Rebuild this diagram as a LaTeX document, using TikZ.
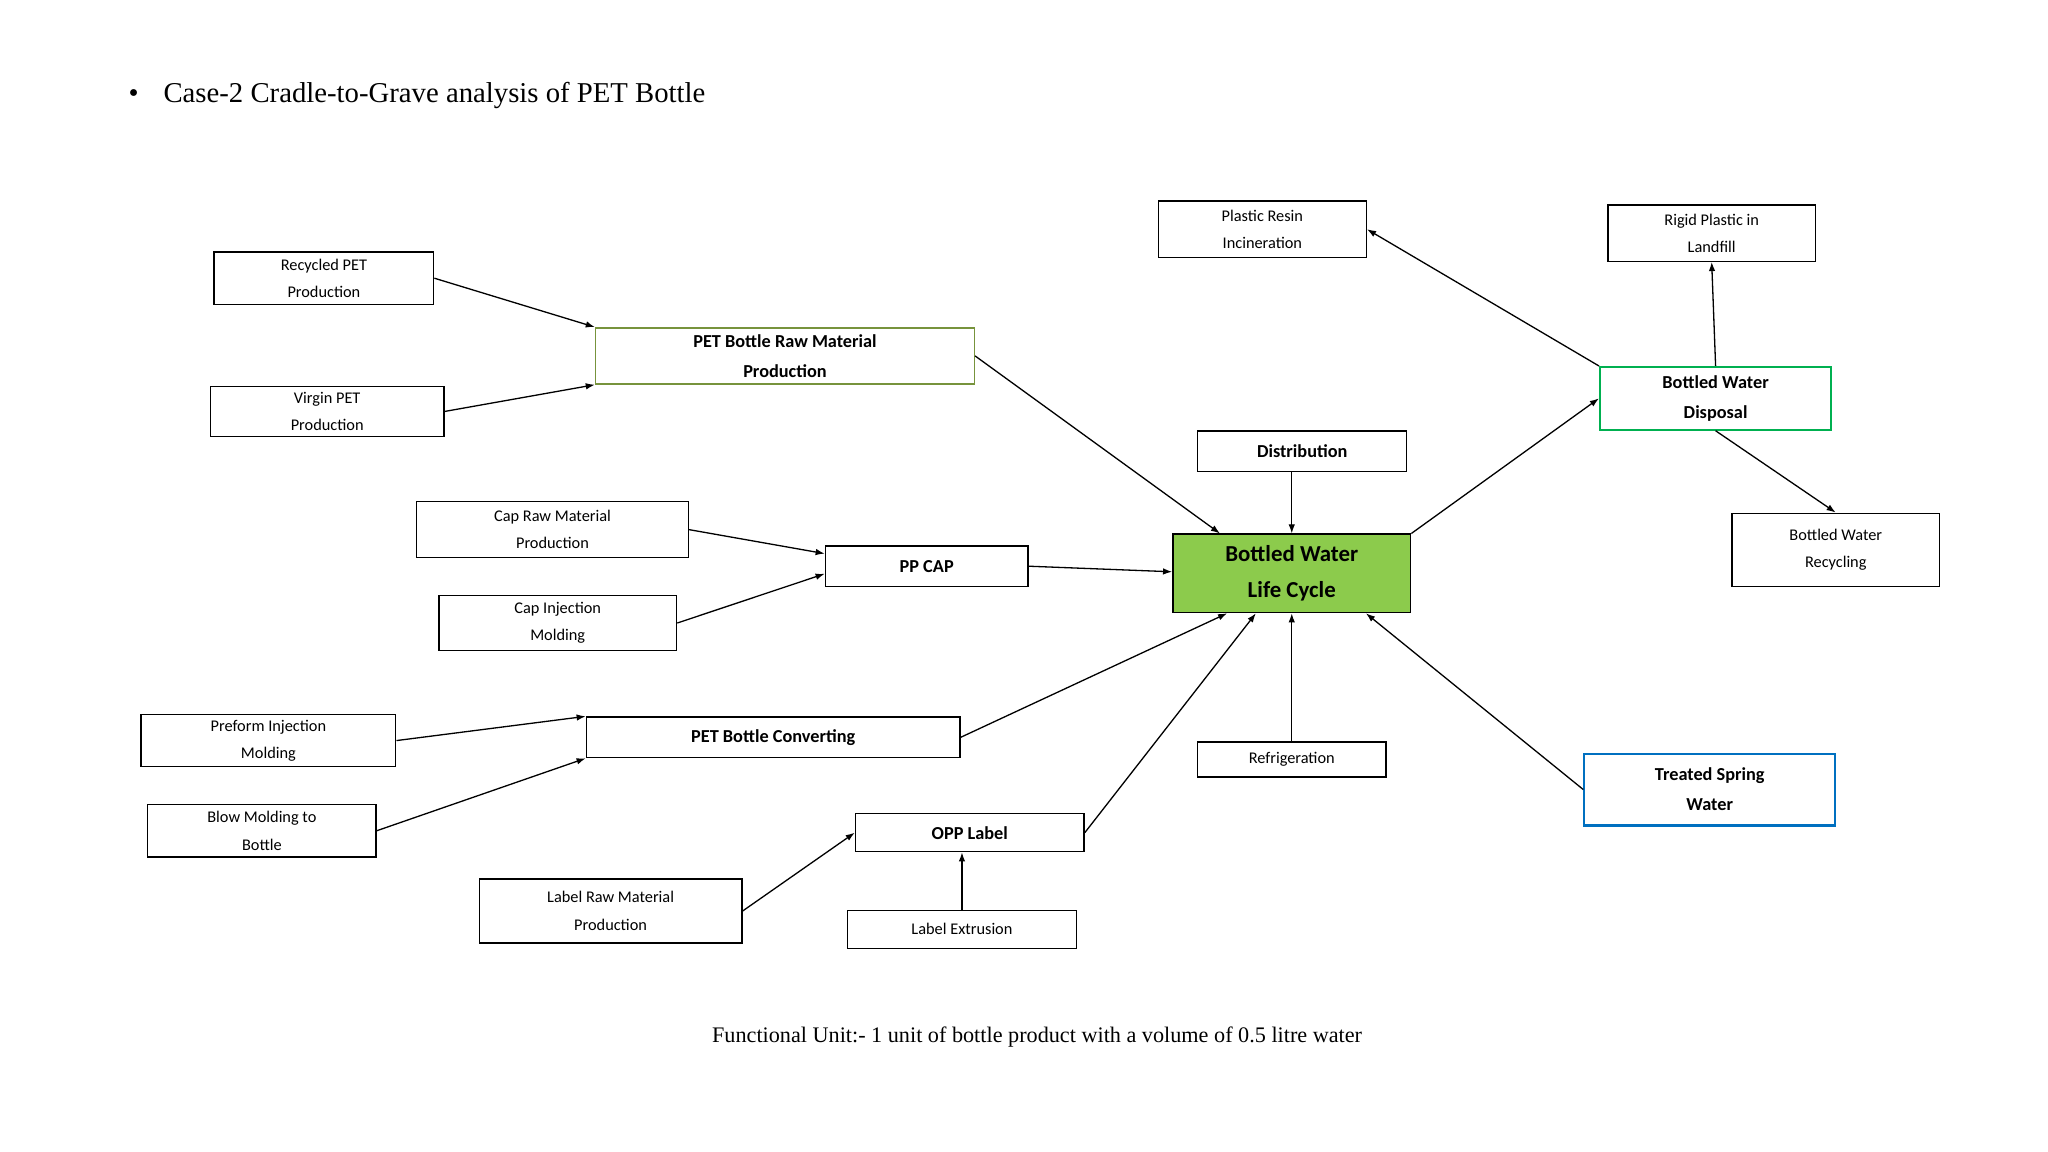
\documentclass[tikz,border=0pt]{standalone}
\usepackage{fontspec}
\setmainfont{Carlito}
\newfontfamily\tnr{Liberation Serif}
\usetikzlibrary{calc,arrows.meta}
\definecolor{olivegr}{HTML}{77933C}
\definecolor{brgreen}{HTML}{00B050}
\definecolor{lcgreen}{HTML}{8CCB4C}
\definecolor{blu}{HTML}{0070C0}
\begin{document}
\begin{tikzpicture}[x=1pt,y=-1pt,
 box/.style={draw,line width=1.1pt,inner sep=0pt,align=center,font=\fontsize{12.5}{21}\selectfont},
 bbox/.style={box,font=\fontsize{14}{23}\selectfont\bfseries},
 arr/.style={-{Latex[length=7pt,width=5pt]},line width=1pt}]
\useasboundingbox (0,0) rectangle (1568,882);
\node[anchor=west,font=\tnr\fontsize{22}{26}\selectfont] (title) at (95,73) {\textbullet\hspace{19pt}Case-2 Cradle-to-Grave analysis of PET Bottle};
\node[font=\tnr\fontsize{17}{20}\selectfont] (fu) at (794,794) {Functional Unit:- 1 unit of bottle product with a volume of 0.5 litre water};

\node[box,minimum width=168,minimum height=40] (rec) at (248,213) {Recycled PET\\Production};
\node[box,minimum width=179,minimum height=38] (vir) at (250.5,315) {Virgin PET\\Production};
\node[bbox,draw=olivegr,minimum width=290,minimum height=43] (raw) at (601,272.5) {PET Bottle Raw Material\\Production};
\node[box,minimum width=208,minimum height=43] (capraw) at (423,405.5) {Cap Raw Material\\Production};
\node[box,minimum width=182,minimum height=42] (capinj) at (427,477) {Cap Injection\\Molding};
\node[bbox,minimum width=155,minimum height=31] (pp) at (709.5,433.5) {PP CAP};
\node[box,minimum width=195,minimum height=40] (pre) at (205.5,567) {Preform Injection\\Molding};
\node[box,minimum width=175,minimum height=40] (blow) at (200.5,636) {Blow Molding to\\Bottle};
\node[bbox,minimum width=286,minimum height=31] (conv) at (592,564.5) {PET Bottle Converting};
\node[bbox,minimum width=175,minimum height=29] (opp) at (742.5,637.5) {OPP Label};
\node[box,minimum width=201,minimum height=49] (labraw) at (467.5,697.5) {Label Raw Material\\Production};
\node[box,minimum width=175,minimum height=29] (labext) at (736.5,711.5) {Label Extrusion};
\node[box,fill=lcgreen,minimum width=182,minimum height=60,font=\fontsize{17.5}{27}\selectfont\bfseries] (lc) at (989,439) {Bottled Water\\Life Cycle};
\node[bbox,minimum width=160,minimum height=31] (dist) at (997,345.5) {Distribution};
\node[box,minimum width=144,minimum height=27] (refr) at (989,581.5) {Refrigeration};
\node[bbox,draw=blu,line width=1.6pt,minimum width=192,minimum height=55] (tsw) at (1309,604.5) {Treated Spring\\Water};
\node[bbox,draw=brgreen,line width=1.6pt,minimum width=177,minimum height=48] (disp) at (1313.5,305) {Bottled Water\\Disposal};
\node[box,minimum width=159,minimum height=43] (inc) at (966.5,175.5) {Plastic Resin\\Incineration};
\node[box,minimum width=159,minimum height=43] (land) at (1310.5,178.5) {Rigid Plastic in\\Landfill};
\node[box,minimum width=159,minimum height=56] (recy) at (1405.5,421) {Bottled Water\\Recycling};

\draw[arr] (rec.east) -- (raw.north west);
\draw[arr] (vir.east) -- (raw.south west);
\draw[arr] (raw.east) -- ($(lc.north west)!0.2!(lc.north east)$);
\draw[arr] (capraw.east) -- ($(pp.north west)!0.2!(pp.south west)$);
\draw[arr] (capinj.east) -- ($(pp.north west)!0.68!(pp.south west)$);
\draw[arr] (pp.east) -- ($(lc.north west)!0.48!(lc.south west)$);
\draw[arr] (pre.east) -- (conv.north west);
\draw[arr] (blow.east) -- (conv.south west);
\draw[arr] (conv.east) -- ($(lc.south west)!0.23!(lc.south east)$);
\draw[arr] (opp.east) -- ($(lc.south west)!0.35!(lc.south east)$);
\draw[arr] (labraw.east) -- (opp.west);
\draw[arr] (labext.north) -- (labext.north |- opp.south);
\draw[arr] (dist.south -| lc.north) -- (lc.north);
\draw[arr] (refr.north) -- (lc.south);
\draw[arr] (tsw.west) -- ($(lc.south west)!0.81!(lc.south east)$);
\draw[arr] (lc.north east) -- (disp.west);
\draw[arr] (disp.north west) -- (inc.east);
\draw[arr] (disp.north) -- (land.south);
\draw[arr] (disp.south) -- (recy.north);
\end{tikzpicture}
\end{document}
